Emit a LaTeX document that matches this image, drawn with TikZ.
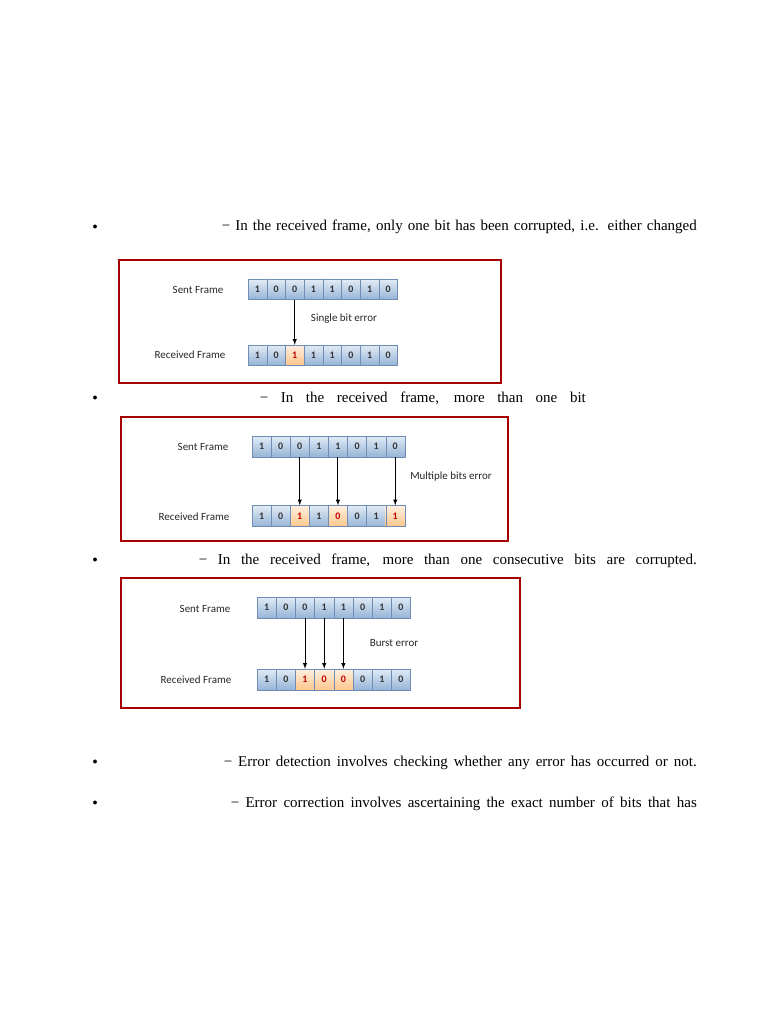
\documentclass[tikz,border=0pt]{standalone}
\usepackage{fontspec}
\setmainfont{Liberation Serif}
\newfontfamily\calib{Carlito}
\definecolor{cellbot}{RGB}{150,180,214}
\definecolor{celltop}{RGB}{225,235,246}
\definecolor{celledge}{RGB}{110,140,180}
\begin{document}
\begin{tikzpicture}[x=1pt,y=-1pt,
 frame/.style={draw=red!65!black,line width=2.2pt},
 cellb/.style={draw=celledge,top color=celltop,bottom color=cellbot,minimum height=20pt,inner sep=0pt,font=\calib\fontsize{10}{10}\selectfont\bfseries,text=black!80},
 cellr/.style={draw=celledge,top color=orange!12,bottom color=orange!45,minimum height=20pt,inner sep=0pt,font=\calib\fontsize{10}{10}\selectfont\bfseries,text=red!75!black},
 lab/.style={font=\calib\fontsize{11}{11}\selectfont,text=black!85},
 arr/.style={-latex,line width=1pt},
 para/.style={font=\fontsize{15}{16}\selectfont,anchor=base east,inner sep=0pt}]
\useasboundingbox (0,0) rectangle (768,1024);
% bullets
\foreach \y/\n in {227/b1,398/b2,560/b3,762/b4,803/b5}
  \node (\n) at (95,\y) {\fontsize{10}{10}\selectfont$\bullet$};
\node[para] (t1) at (697,231) {\makebox[475pt][s]{− In the received frame, only one bit has been corrupted, i.e. either changed}};
\node[para] (t2) at (586,402) {\makebox[326pt][s]{− In the received frame, more than one bit}};
\node[para] (t3) at (697,564) {\makebox[498pt][s]{− In the received frame, more than one consecutive bits are corrupted.}};
\node[para] (t4) at (697,766) {\makebox[473pt][s]{− Error detection involves checking whether any error has occurred or not.}};
\node[para] (t5) at (697,807) {\makebox[466pt][s]{− Error correction involves ascertaining the exact number of bits that has}};
% diagram 1
\draw[frame] (119,260) rectangle (501,383);
\node[lab] (s1) at (198,290) {Sent Frame};
\node[lab] (r1) at (190,355) {Received Frame};
\foreach \v [count=\i] in {1,0,0,1,1,0,1,0}
  \node[cellb,minimum width=18.7pt] (a\i) at (248+18.7*\i-9.35,289.5) {\v};
\foreach \v/\s [count=\i] in {1/cellb,0/cellb,1/cellr,1/cellb,1/cellb,0/cellb,1/cellb,0/cellb}
  \node[\s,minimum width=18.7pt] (ar\i) at (248+18.7*\i-9.35,355) {\v};
\draw[arr] (a3.south) -- (ar3.north);
\node[lab] (e1) at (344,319) {Single bit error};
% diagram 2
\draw[frame] (121,417) rectangle (508,541);
\node[lab] (s2) at (203,447) {Sent Frame};
\node[lab] (r2) at (194,517) {Received Frame};
\foreach \v [count=\i] in {1,0,0,1,1,0,1,0}
  \node[cellb,minimum width=19.1pt,minimum height=21pt] (b\i) at (252+19.1*\i-9.55,446.5) {\v};
\foreach \v/\s [count=\i] in {1/cellb,0/cellb,1/cellr,1/cellb,0/cellr,0/cellb,1/cellb,1/cellr}
  \node[\s,minimum width=19.1pt,minimum height=21pt] (br\i) at (252+19.1*\i-9.55,516) {\v};
\foreach \i in {3,5,8} \draw[arr] (b\i.south) -- (br\i.north);
\node[lab,fill=white,inner sep=1pt] (e2) at (451,477) {Multiple bits error};
% diagram 3
\draw[frame] (121,578) rectangle (520,708);
\node[lab] (s3) at (205,609) {Sent Frame};
\node[lab] (r3) at (196,680) {Received Frame};
\foreach \v [count=\i] in {1,0,0,1,1,0,1,0}
  \node[cellb,minimum width=19.2pt,minimum height=21pt] (c\i) at (257+19.2*\i-9.6,607.5) {\v};
\foreach \v/\s [count=\i] in {1/cellb,0/cellb,1/cellr,0/cellr,0/cellr,0/cellb,1/cellb,0/cellb}
  \node[\s,minimum width=19.2pt,minimum height=21pt] (cr\i) at (257+19.2*\i-9.6,679.5) {\v};
\foreach \i in {3,4,5} \draw[arr] (c\i.south) -- (cr\i.north);
\node[lab] (e3) at (394,643) {Burst error};
\end{tikzpicture}
\end{document}
